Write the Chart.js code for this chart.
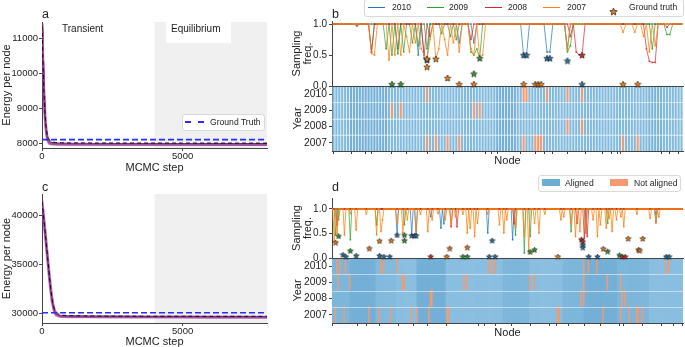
<!DOCTYPE html>
<html>
<head>
  <title>MCMC energy and sampling frequency</title>
  <script src="https://cdn.jsdelivr.net/npm/chart.js"></script>
  <style>
    body {
      margin: 0;
      background: #fff;
      font-family: "Liberation Sans", Arial, sans-serif;
      color: #222;
    }

    #wrap {
      position: relative;
      width: 685px;
      height: 347px;
      overflow: hidden;
    }

    canvas {
      position: absolute;
    }

    .txt {
      position: absolute;
      white-space: nowrap;
      line-height: 12px;
    }

    .panel {
      font-size: 12.5px;
    }

    .note {
      font-size: 10px;
    }

    .box {
      position: absolute;
      background: #fff;
      border: 1px solid #d9d9d9;
      border-radius: 3px;
    }

    .key {
      position: absolute;
      font-size: 8.6px;
      line-height: 10px;
      white-space: nowrap;
    }
  </style>
</head>
<body>

<div id="wrap">
  <canvas id="chartA" width="275" height="176" style="left:0;top:0"></canvas>
  <canvas id="chartC" width="275" height="177" style="left:0;top:170px"></canvas>
  <canvas id="heatB" width="415" height="84" style="left:270px;top:86px"></canvas>
  <canvas id="heatD" width="415" height="89" style="left:270px;top:258px"></canvas>
  <canvas id="freqB" width="415" height="94" style="left:270px;top:0"></canvas>
  <canvas id="freqD" width="415" height="96" style="left:270px;top:170px"></canvas>

  <div class="txt panel" style="left:42px;top:8px">a</div>
  <div class="txt panel" style="left:332px;top:8px">b</div>
  <div class="txt panel" style="left:42px;top:181px">c</div>
  <div class="txt panel" style="left:332px;top:181px">d</div>

  <div class="txt note" style="left:62px;top:23px">Transient</div>
  <div class="box" style="left:166px;top:21px;width:65px;height:22px;border:none;border-radius:0"></div>
  <div class="txt note" style="left:171px;top:23px">Equilibrium</div>

  <!-- legend a -->
  <div class="box" style="left:182px;top:114px;width:81px;height:15px"></div>
  <div style="position:absolute;left:185px;top:121px;width:19px;border-top:2px dashed #2b2bff"></div>
  <div class="key" style="left:210px;top:117px">Ground Truth</div>

  <!-- legend b -->
  <div class="box" style="left:364px;top:-1px;width:318px;height:16px"></div>
  <div style="position:absolute;left:368px;top:7px;width:17px;border-top:1px solid #1f77b4"></div>
  <div class="key" style="left:392px;top:2px">2010</div>
  <div style="position:absolute;left:427px;top:7px;width:17px;border-top:1px solid #2ca02c"></div>
  <div class="key" style="left:449px;top:2px">2009</div>
  <div style="position:absolute;left:485px;top:7px;width:17px;border-top:1px solid #d62728"></div>
  <div class="key" style="left:508px;top:2px">2008</div>
  <div style="position:absolute;left:543px;top:7px;width:17px;border-top:1px solid #ff7f0e"></div>
  <div class="key" style="left:567px;top:2px">2007</div>
  <div id="legendStar" style="position:absolute;left:609px;top:2px;width:9px;height:9px"></div>
  <div class="key" style="left:629px;top:2px">Ground truth</div>

  <!-- legend d -->
  <div class="box" style="left:538px;top:175px;width:141px;height:15px"></div>
  <div style="position:absolute;left:542px;top:179px;width:18px;height:7px;background:#6aaed6"></div>
  <div class="key" style="left:565px;top:178px">Aligned</div>
  <div style="position:absolute;left:610px;top:179px;width:18px;height:7px;background:#f39a70"></div>
  <div class="key" style="left:634px;top:178px">Not aligned</div>
</div>

<script>
  // ---- panel a / c : energy per node against MCMC step ----
  const stepsA = [0, 20, 40, 60, 80, 100, 130, 160, 200, 250, 300, 400, 500, 700, 1000, 1500, 2000, 3000, 4000, 5000, 6000, 7000, 8000];
  const runsA = [
    [11420, 10900, 10300, 9800, 9350, 9000, 8620, 8350, 8150, 8040, 7995, 7975, 7970, 7968, 7966, 7965, 7963, 7962, 7960, 7960, 7958, 7957, 7956],
    [11300, 10700, 10100, 9600, 9200, 8850, 8500, 8280, 8100, 8010, 7985, 7978, 7975, 7972, 7970, 7970, 7968, 7966, 7965, 7964, 7963, 7962, 7962],
    [11200, 10600, 10000, 9500, 9100, 8750, 8420, 8220, 8070, 7990, 7975, 7968, 7965, 7962, 7960, 7958, 7957, 7955, 7955, 7954, 7953, 7952, 7952]
  ];
  const blackRunsA = [
    [11350, 10800, 10200, 9700, 9280, 8950, 8600, 8380, 8200, 8110, 8060, 8030, 8015, 8010, 8008, 8006, 8005, 8004, 8003, 8002, 8002, 8001, 8000],
    [11250, 10650, 10050, 9550, 9150, 8800, 8480, 8260, 8120, 8060, 8030, 8010, 8000, 7995, 7993, 7992, 7990, 7990, 7989, 7988, 7988, 7987, 7987]
  ];
  const groundTruthA = 8100;
  const yTicksA = [8000, 9000, 10000, 11000];

  const stepsC = [0, 50, 100, 150, 200, 250, 300, 350, 400, 450, 500, 600, 700, 1000, 1500, 2000, 3000, 4000, 5000, 6000, 7000, 8000];
  const runsC = [
    [41600, 40300, 38900, 37400, 35900, 34400, 33000, 31800, 30900, 30300, 29950, 29750, 29700, 29680, 29670, 29660, 29650, 29640, 29640, 29630, 29630, 29620],
    [41300, 40000, 38600, 37100, 35600, 34100, 32700, 31500, 30700, 30150, 29850, 29700, 29660, 29640, 29630, 29620, 29610, 29600, 29600, 29590, 29590, 29580],
    [41000, 39700, 38200, 36700, 35200, 33700, 32300, 31200, 30500, 30050, 29800, 29680, 29640, 29620, 29610, 29600, 29590, 29580, 29580, 29570, 29570, 29560]
  ];
  const blackRunsC = [
    [41400, 40100, 38700, 37200, 35700, 34200, 32800, 31600, 30800, 30400, 30150, 29900, 29800, 29750, 29720, 29710, 29700, 29690, 29690, 29680, 29680, 29680],
    [41200, 39900, 38400, 36900, 35400, 33900, 32500, 31400, 30600, 30200, 29950, 29780, 29720, 29700, 29690, 29680, 29670, 29660, 29660, 29650, 29650, 29650]
  ];
  const groundTruthC = 30050;
  const yTicksC = [30000, 35000, 40000];

  const stepTicks = [0, 5000];
  const equilibriumFrom = 4000;
  const lastStep = 8000;

  // ---- panel b / d : sampling frequency per node and year ----
  const years = [2010, 2009, 2008, 2007];
  const yearTickLabels = ['2007', '2008', '2009', '2010'];   // heatmap rows, bottom to top
  const freqTicks = [0, 0.5, 1.0];

  // [node, frequency]; nodes not listed sit at 1.0
  const nodesB = 120;
  const dipsB2010 = [[22, 0.6], [29, 0.5], [31, 0.45], [32, 0.42], [43, 0.7], [48, 0.7], [65, 0.5], [66, 0.5], [73, 0.55], [74, 0.55], [80, 0.6]];
  const dipsB2009 = [[13, 0.55], [18, 0.6], [20, 0.5], [22, 0.52], [24, 0.55], [27, 0.7], [29, 0.65], [32, 0.6], [37, 0.85], [40, 0.8], [42, 0.75], [47, 0.55], [48, 0.5], [49, 0.6], [50, 0.45], [80, 0.55], [81, 0.65], [109, 0.6], [114, 0.83], [115, 0.83]];
  const dipsB2008 = [[8, 0.97], [13, 0.55], [31, 0.5], [33, 0.8], [47, 0.75], [81, 0.8], [83, 0.55], [84, 0.5], [85, 0.5], [107, 0.6], [108, 0.4], [109, 0.38], [110, 0.38], [114, 0.95]];
  const dipsB2007 = [[13, 0.53], [14, 0.5], [19, 0.42], [21, 0.5], [23, 0.5], [25, 0.8], [26, 0.55], [28, 0.7], [30, 0.6], [31, 0.5], [32, 0.44], [33, 0.75], [35, 0.44], [36, 0.6], [38, 0.75], [39, 0.5], [41, 0.7], [43, 0.55], [47, 0.6], [48, 0.5], [50, 0.45], [51, 0.5], [80, 0.58], [99, 0.87], [103, 0.87], [106, 0.8], [108, 0.55], [110, 0.65]];

  const starsBNode = [20, 23, 32, 32, 32, 35, 39, 43, 48, 48, 50, 65, 65, 66, 69, 70, 71, 73, 74, 80, 85, 85, 99, 104];
  const starsBValue = [0.03, 0.03, 0.42, 0.44, 0.31, 0.44, 0.13, 0.03, 0.2, 0.03, 0.45, 0.03, 0.5, 0.5, 0.03, 0.03, 0.03, 0.45, 0.45, 0.41, 0.5, 0.03, 0.03, 0.03];
  const starsBYear = [2009, 2009, 2010, 2007, 2007, 2007, 2007, 2007, 2009, 2007, 2009, 2007, 2010, 2010, 2007, 2007, 2007, 2010, 2010, 2010, 2008, 2010, 2007, 2007];

  const notAlignedB2010 = [32, 65, 66, 73, 80, 85];
  const notAlignedB2009 = [20, 23, 48, 50];
  const notAlignedB2008 = [80, 85];
  const notAlignedB2007 = [32, 35, 39, 43, 65, 69, 70, 71, 99, 104];
  // [first node, alignment score] runs for aligned cells
  const scoreB = [[0, 0.75], [6, 0.9], [19, 0.75], [56, 0.9], [63, 0.75], [108, 0.85], [113, 0.75]];
  const nodeTicksB = [0, 6, 11, 13, 20, 25, 32, 41, 52, 54, 56, 64, 69, 72, 75, 80, 86, 92, 95, 97, 98, 112, 115, 118];

  const nodesD = 240;
  const dipsD2010 = [[44, 0.47], [54, 0.47], [57, 0.47], [67, 0.84], [74, 0.61], [76, 0.7], [106, 0.51], [123, 0.37], [173, 0.51], [221, 0.74]];
  const dipsD2009 = [[2, 0.47], [4, 0.78], [12, 0.37], [30, 0.68], [49, 0.68], [125, 0.47], [131, 0.1], [135, 0.44], [163, 0.54], [188, 0.71], [221, 0.9]];
  const dipsD2008 = [[3, 0.68], [81, 0.64], [85, 0.64], [124, 0.7], [167, 0.71], [172, 0.4], [174, 0.44]];
  const dipsD2007 = [[1, 0.34], [3, 0.5], [8, 0.47], [12, 0.91], [16, 0.57], [23, 0.9], [30, 0.47], [33, 0.54], [34, 0.78], [44, 0.71], [48, 0.51], [51, 0.78], [57, 0.54], [60, 0.9], [65, 0.54], [68, 0.78], [72, 0.91], [77, 0.78], [81, 0.68], [84, 0.84], [89, 0.9], [92, 0.51], [94, 0.61], [97, 0.44], [99, 0.71], [106, 0.9], [114, 0.68], [117, 0.51], [119, 0.78], [125, 0.64], [131, 0.44], [134, 0.14], [138, 0.71], [141, 0.51], [145, 0.9], [156, 0.78], [158, 0.84], [163, 0.71], [166, 0.44], [169, 0.54], [173, 0.51], [178, 0.78], [181, 0.44], [183, 0.68], [187, 0.61], [189, 0.81], [191, 0.54], [194, 0.78], [197, 0.84], [199, 0.64], [208, 0.9], [217, 0.81], [221, 0.71], [223, 0.84]];

  const starsDNode = [2, 4, 7, 9, 12, 16, 25, 32, 32, 35, 39, 40, 44, 49, 49, 54, 56, 57, 67, 78, 80, 89, 92, 92, 107, 109, 111, 135, 138, 154, 170, 171, 171, 171, 175, 181, 185, 188, 196, 198, 200, 202, 209, 210, 212, 228, 230];
  const starsDValue = [0.32, 0.45, 0.07, 0.03, 0.15, 0.05, 0.2, 0.35, 0.05, 0.03, 0.03, 0.36, 0.47, 0.47, 0.36, 0.46, 0.46, 0.46, 0.03, 0.03, 0.2, 0.03, 0.03, 0.22, 0.03, 0.36, 0.03, 0.13, 0.17, 0.03, 0.38, 0.34, 0.27, 0.22, 0.03, 0.03, 0.19, 0.14, 0.06, 0.03, 0.03, 0.4, 0.17, 0.16, 0.4, 0.03, 0.03];
  const starsDYear = [2007, 2009, 2010, 2010, 2009, 2010, 2007, 2007, 2010, 2010, 2010, 2007, 2010, 2009, 2009, 2010, 2010, 2010, 2008, 2007, 2007, 2009, 2009, 2007, 2010, 2010, 2010, 2009, 2009, 2007, 2008, 2008, 2010, 2010, 2010, 2010, 2007, 2009, 2009, 2008, 2008, 2007, 2007, 2007, 2007, 2010, 2010];

  const notAlignedD2010 = [3, 5, 9, 33, 35, 44, 107, 109, 111, 172, 175, 181, 228, 230];
  const notAlignedD2009 = [4, 12, 48, 49, 90, 92, 135, 138, 172, 188, 197];
  const notAlignedD2008 = [67, 68, 170, 172, 198, 200];
  const notAlignedD2007 = [2, 8, 25, 32, 40, 54, 58, 66, 78, 80, 154, 155, 185, 197, 203, 208, 209, 212];
  const scoreD = [[0, 0.8], [12, 0.9], [30, 0.75], [44, 0.68], [58, 0.9], [78, 0.68], [117, 0.8], [135, 0.68], [158, 0.8], [172, 0.9], [195, 0.8], [217, 0.68]];
  const nodeTicksD = [0, 17, 23, 32, 45, 55, 65, 78, 100, 104, 111, 122, 135, 148, 153, 161, 172, 183, 196, 199, 212, 225, 233, 239];

  // ---- styling ----
  Chart.defaults.font.family = '"Liberation Sans", Arial, sans-serif';
  Chart.defaults.font.size = 9.5;
  Chart.defaults.color = '#222';
  Chart.defaults.animation = false;
  Chart.defaults.layout.autoPadding = false;

  const axisColor = '#444';
  const yearColors = { 2010: '#1f77b4', 2009: '#2ca02c', 2008: '#d62728', 2007: '#ff7f0e' };
  const lineColors = { 2010: 'rgba(31,119,180,0.7)', 2009: 'rgba(44,160,44,0.7)', 2008: 'rgba(214,39,40,0.7)', 2007: 'rgba(255,127,14,0.75)' };
  const purple = 'rgba(150,55,150,0.5)';
  const orangeCell = '#f39a70';

  function starImage(color, size) {
    const c = document.createElement('canvas');
    c.width = size;
    c.height = size;
    const g = c.getContext('2d');
    const r = size / 2 - 0.6, ri = r * 0.45, cx = size / 2, cy = size / 2 + 0.4;
    g.beginPath();
    for (let i = 0; i < 10; i++) {
      const rad = i % 2 ? ri : r;
      const a = -Math.PI / 2 + i * Math.PI / 5;
      g.lineTo(cx + rad * Math.cos(a), cy + rad * Math.sin(a));
    }
    g.closePath();
    g.fillStyle = color;
    g.fill();
    g.strokeStyle = '#222';
    g.lineWidth = 0.7;
    g.stroke();
    return c;
  }

  const legendStar = starImage('#e0801c', 9);
  legendStar.style.position = 'static';
  document.getElementById('legendStar').appendChild(legendStar);

  // no extra room for edge tick labels: the boxes are placed by hand
  function noPad(s) {
    s.paddingTop = 0;
    s.paddingBottom = 0;
    s.paddingLeft = 0;
    s.paddingRight = 0;
  }

  // grey equilibrium band
  const regionPlugin = {
    id: 'region',
    beforeDatasetsDraw(chart, args, opts) {
      const { ctx, chartArea: a, scales: { x } } = chart;
      const x0 = x.getPixelForValue(opts.from), x1 = x.getPixelForValue(opts.to);
      ctx.save();
      ctx.fillStyle = '#f0f0f0';
      ctx.fillRect(x0, a.top, x1 - x0, a.bottom - a.top);
      ctx.restore();
    }
  };

  // light lines between heatmap rows
  const rowLinePlugin = {
    id: 'rowLines',
    afterDatasetsDraw(chart) {
      const { ctx, chartArea: a, scales: { y } } = chart;
      ctx.save();
      ctx.strokeStyle = 'rgba(255,255,255,0.5)';
      ctx.lineWidth = 1;
      [1, 2, 3].forEach(v => {
        const py = Math.round(y.getPixelForValue(v)) + 0.5;
        ctx.beginPath();
        ctx.moveTo(a.left, py);
        ctx.lineTo(a.right, py);
        ctx.stroke();
      });
      ctx.restore();
    }
  };

  function pairs(xs, ys) {
    return xs.map((x, i) => ({ x: x, y: ys[i] }));
  }

  function energyChart(id, steps, runs, blacks, truth, yMin, yMax, yTicks, padTop, xHeight, titlePad) {
    const datasets = [
      { data: [{ x: 0, y: truth }, { x: lastStep, y: truth }], borderColor: '#2b2bff', borderWidth: 1.6, borderDash: [6, 3], order: 0 },
      { data: pairs(steps, blacks[0]), borderColor: 'rgba(0,0,0,0.85)', borderWidth: 1, borderDash: [4, 3], order: 1 }
    ];
    runs.forEach((r, k) => {
      datasets.push({ data: pairs(steps, r), borderColor: purple, borderWidth: 2.5, order: 2 + k });
    });
    datasets.push({ data: pairs(steps, blacks[1]), borderColor: '#111', borderWidth: 1, order: 9 });
    datasets.forEach(d => { d.pointRadius = 0; d.tension = 0; d.fill = false; });

    return new Chart(document.getElementById(id), {
      type: 'line',
      data: { datasets: datasets },
      plugins: [regionPlugin],
      options: {
        responsive: false,
        layout: { padding: { top: padTop, right: 8, left: 0, bottom: 0 } },
        plugins: {
          legend: { display: false },
          tooltip: { enabled: false },
          region: { from: equilibriumFrom, to: lastStep }
        },
        scales: {
          x: {
            type: 'linear', min: 0, max: lastStep,
            afterBuildTicks: s => { s.ticks = stepTicks.map(v => ({ value: v })); },
            afterFit: s => { s.height = xHeight; noPad(s); },
            ticks: { callback: v => String(v), padding: 0, maxRotation: 0 },
            grid: { drawOnChartArea: false, tickLength: 3, color: axisColor },
            border: { color: axisColor },
            title: { display: true, text: 'MCMC step', font: { size: 11, lineHeight: 1 }, padding: { top: 0, bottom: titlePad } }
          },
          y: {
            type: 'linear', min: yMin, max: yMax,
            afterBuildTicks: s => { s.ticks = yTicks.map(v => ({ value: v })); },
            afterFit: s => { s.width = 42; noPad(s); },
            ticks: { callback: v => String(v), padding: 1 },
            grid: { drawOnChartArea: false, tickLength: 3, color: axisColor },
            border: { color: axisColor },
            title: { display: true, text: 'Energy per node', font: { size: 11 }, padding: { top: 0.5, bottom: 0 } }
          }
        }
      }
    });
  }

  function fullSeries(n, dips) {
    const s = new Array(n).fill(1);
    dips.forEach(([i, v]) => { s[i] = v; });
    return s;
  }

  function freqChart(id, n, dipsByYear, starNodes, starValues, starYears, yMax, padTop, starSize) {
    const nodes = [...Array(n).keys()];
    const starImgs = {};
    years.forEach(y => { starImgs[y] = starImage(yearColors[y], starSize); });

    const datasets = [{
      type: 'scatter',
      data: pairs(starNodes, starValues),
      pointStyle: starYears.map(y => starImgs[y]),
      pointRadius: 4,
      clip: false,
      order: 0
    }];
    years.forEach((y, k) => {
      datasets.push({
        type: 'line',
        data: pairs(nodes, fullSeries(n, dipsByYear[k])),
        borderColor: lineColors[y],
        backgroundColor: lineColors[y],
        borderWidth: 1,
        pointRadius: 1,
        pointBorderWidth: 0,
        tension: 0,
        order: 4 - k
      });
    });

    return new Chart(document.getElementById(id), {
      type: 'line',
      data: { datasets: datasets },
      options: {
        responsive: false,
        // bottom padding leaves room for the "0.0" label over the heatmap
        layout: { padding: { top: padTop, right: 2, left: 0, bottom: 8 } },
        plugins: { legend: { display: false }, tooltip: { enabled: false } },
        scales: {
          x: {
            type: 'linear', min: -0.5, max: n - 0.5,
            afterFit: s => { s.height = 0; noPad(s); },
            ticks: { display: false },
            grid: { display: false },
            border: { color: axisColor }
          },
          y: {
            type: 'linear', min: 0, max: yMax,
            afterBuildTicks: s => { s.ticks = freqTicks.map(v => ({ value: v })); },
            afterFit: s => { s.width = 62; noPad(s); },
            ticks: { callback: v => v.toFixed(1), padding: 2, font: { size: 10 } },
            grid: { drawOnChartArea: false, tickLength: 3, color: axisColor },
            border: { color: axisColor },
            title: { display: true, text: ['Sampling', 'freq.'], font: { size: 11, lineHeight: 1 }, padding: { top: 21.5, bottom: 0 } }
          }
        }
      }
    });
  }

  function blueFor(s) {
    const t = Math.max(0, Math.min(1, (s - 0.6) / 0.4));
    const r = Math.round(146 + (104 - 146) * t);
    const g = Math.round(196 + (168 - 196) * t);
    const b = Math.round(227 + (210 - 227) * t);
    return `rgb(${r},${g},${b})`;
  }

  function scoreAt(scores, i) {
    let s = scores[0][1];
    scores.forEach(([start, v]) => { if (i >= start) s = v; });
    return s;
  }

  function heatChart(id, n, notAlignedBottomUp, scores, nodeTicks, xHeight, titlePad, barPct) {
    const labels = [...Array(n).keys()].map(String);
    const datasets = notAlignedBottomUp.map(list => ({
      data: new Array(n).fill(1),
      backgroundColor: labels.map((l, i) => list.includes(i) ? orangeCell : blueFor(scoreAt(scores, i))),
      borderWidth: 0,
      barPercentage: barPct,
      categoryPercentage: 1,
      stack: 'rows'
    }));

    return new Chart(document.getElementById(id), {
      type: 'bar',
      data: { labels: labels, datasets: datasets },
      plugins: [rowLinePlugin],
      options: {
        responsive: false,
        layout: { padding: { top: 0, right: 2, left: 0, bottom: 0 } },
        plugins: { legend: { display: false }, tooltip: { enabled: false } },
        scales: {
          x: {
            type: 'category', stacked: true, offset: true,
            afterBuildTicks: s => { s.ticks = nodeTicks.map(v => ({ value: v })); },
            afterFit: s => { s.height = xHeight; noPad(s); },
            ticks: { display: false, autoSkip: false },
            grid: { drawOnChartArea: false, offset: false, tickLength: 3, color: axisColor },
            border: { color: axisColor },
            title: { display: true, text: 'Node', font: { size: 11 }, padding: { top: 0, bottom: titlePad } }
          },
          y: {
            type: 'linear', stacked: true, min: 0, max: 4,
            afterBuildTicks: s => { s.ticks = yearTickLabels.map((l, i) => ({ value: i + 0.5 })); },
            afterFit: s => { s.width = 62; noPad(s); },
            ticks: { callback: v => yearTickLabels[Math.floor(v)], padding: 2, font: { size: 10.3 } },
            grid: { drawOnChartArea: false, tickLength: 3, color: axisColor },
            border: { color: axisColor },
            title: { display: true, text: 'Year', font: { size: 11 }, padding: { top: 21.4, bottom: 0 } }
          }
        }
      }
    });
  }

  energyChart('chartA', stepsA, runsA, blackRunsA, groundTruthA, 7860, 11460, yTicksA, 22, 28, 2.5);
  energyChart('chartC', stepsC, runsC, blackRunsC, groundTruthC, 29000, 42150, yTicksC, 24, 24, 0);

  heatChart('heatB', nodesB, [notAlignedB2007, notAlignedB2008, notAlignedB2009, notAlignedB2010], scoreB, nodeTicksB, 19, 2.4, 0.75);
  heatChart('heatD', nodesD, [notAlignedD2007, notAlignedD2008, notAlignedD2009, notAlignedD2010], scoreD, nodeTicksD, 24, 7.4, 1);

  freqChart('freqB', nodesB, [dipsB2010, dipsB2009, dipsB2008, dipsB2007], starsBNode, starsBValue, starsBYear, 1.05, 21, 8);
  freqChart('freqD', nodesD, [dipsD2010, dipsD2009, dipsD2008, dipsD2007], starsDNode, starsDValue, starsDYear, 1.224, 28, 7);
</script>

</body>
</html>
